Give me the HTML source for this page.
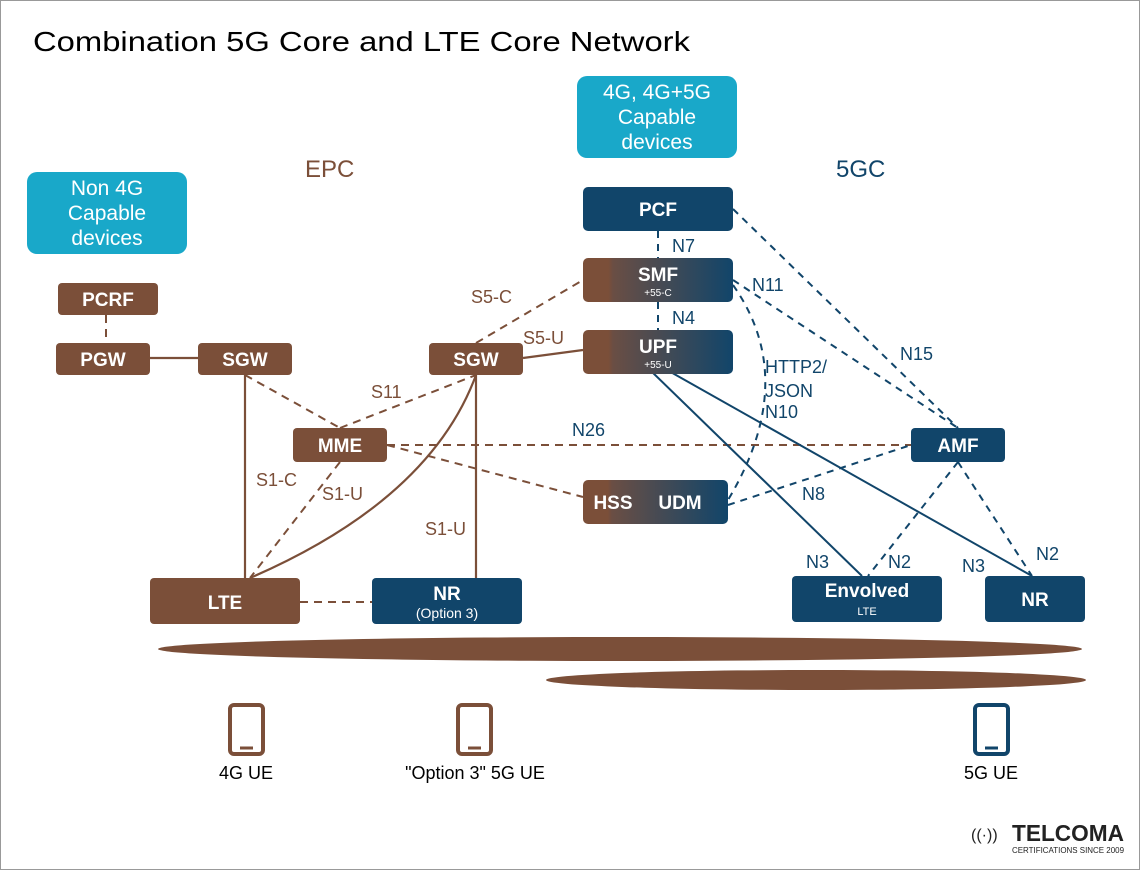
<!DOCTYPE html>
<html><head><meta charset="utf-8"><style>
body{margin:0;background:#fff}
svg{display:block}
text{font-family:"Liberation Sans",sans-serif}
</style></head><body>
<svg width="1140" height="870" viewBox="0 0 1140 870">
<defs>
<linearGradient id="g" x1="0" x2="1"><stop offset="0" stop-color="#7b4f39"/><stop offset="0.17" stop-color="#7b4f39"/><stop offset="0.2" stop-color="#6a4e44"/><stop offset="1" stop-color="#11456a"/></linearGradient>
</defs>
<rect x="0.5" y="0.5" width="1139" height="869" fill="#fff" stroke="#999"/>
<text x="33" y="51" font-size="28" fill="#000" textLength="657" lengthAdjust="spacingAndGlyphs">Combination 5G Core and LTE Core Network</text>
<text x="305" y="177" font-size="24" fill="#7b4f39">EPC</text>
<text x="836" y="177" font-size="24" fill="#11456a">5GC</text>
<g fill="#19a8c9"><rect x="27" y="172" width="160" height="82" rx="10"/><rect x="577" y="76" width="160" height="82" rx="10"/></g>
<g fill="#fff" font-size="21" text-anchor="middle">
<text x="107" y="195">Non 4G</text><text x="107" y="220">Capable</text><text x="107" y="245">devices</text>
<text x="657" y="99">4G, 4G+5G</text><text x="657" y="124">Capable</text><text x="657" y="149">devices</text></g>
<g stroke="#7b4f39" stroke-width="2.2" fill="none">
<line x1="150" y1="358" x2="198" y2="358"/>
<line x1="245" y1="375" x2="245" y2="578"/>
<line x1="523" y1="358" x2="583" y2="350"/>
<line x1="476" y1="375" x2="476" y2="578"/>
<path d="M250 578 Q430 500 476 375"/>
</g>
<g stroke="#7b4f39" stroke-width="2" fill="none" stroke-dasharray="8,6">
<line x1="106" y1="315" x2="106" y2="343"/>
<line x1="245" y1="375" x2="340" y2="428"/>
<line x1="340" y1="428" x2="476" y2="375"/>
<line x1="340" y1="462" x2="250" y2="578"/>
<line x1="387" y1="445" x2="583" y2="497"/>
<line x1="387" y1="445" x2="911" y2="445"/>
<line x1="476" y1="343" x2="583" y2="280"/>
<line x1="300" y1="602" x2="372" y2="602"/>
</g>
<g stroke="#11456a" stroke-width="2" fill="none" stroke-dasharray="7,6">
<line x1="658" y1="231" x2="658" y2="258"/>
<line x1="658" y1="302" x2="658" y2="330"/>
<line x1="733" y1="209" x2="958" y2="428"/>
<line x1="733" y1="280" x2="958" y2="428"/>
<path d="M733 285 Q800 380 728 500"/>
<line x1="728" y1="505" x2="911" y2="445"/>
<line x1="958" y1="462" x2="868" y2="576"/>
<line x1="958" y1="462" x2="1032" y2="576"/>
</g>
<g stroke="#11456a" stroke-width="2" fill="none">
<line x1="650" y1="370" x2="862" y2="576"/>
<line x1="660" y1="366" x2="1032" y2="576"/>
</g>
<g font-size="18" fill="#7b4f39">
<text x="471" y="303">S5-C</text><text x="523" y="344">S5-U</text>
<text x="371" y="398">S11</text><text x="256" y="486">S1-C</text><text x="322" y="500">S1-U</text><text x="425" y="535">S1-U</text>
</g>
<g font-size="18" fill="#11456a">
<text x="672" y="252">N7</text><text x="672" y="324">N4</text><text x="752" y="291">N11</text>
<text x="900" y="360">N15</text><text x="765" y="373">HTTP2/</text><text x="765" y="397">JSON</text><text x="765" y="418">N10</text>
<text x="572" y="436">N26</text><text x="802" y="500">N8</text>
<text x="806" y="568">N3</text><text x="888" y="568">N2</text><text x="962" y="572">N3</text><text x="1036" y="560">N2</text>
</g>
<g fill="#7b4f39">
<rect x="58" y="283" width="100" height="32" rx="4"/><rect x="56" y="343" width="94" height="32" rx="4"/>
<rect x="198" y="343" width="94" height="32" rx="4"/><rect x="429" y="343" width="94" height="32" rx="4"/>
<rect x="293" y="428" width="94" height="34" rx="4"/><rect x="150" y="578" width="150" height="46" rx="4"/>
</g>
<g fill="#11456a">
<rect x="372" y="578" width="150" height="46" rx="4"/><rect x="583" y="187" width="150" height="44" rx="5"/>
<rect x="911" y="428" width="94" height="34" rx="4"/><rect x="792" y="576" width="150" height="46" rx="4"/>
<rect x="985" y="576" width="100" height="46" rx="4"/>
</g>
<rect x="583" y="258" width="150" height="44" rx="5" fill="url(#g)"/>
<rect x="583" y="330" width="150" height="44" rx="5" fill="url(#g)"/>
<rect x="583" y="480" width="145" height="44" rx="5" fill="url(#g)"/>
<g fill="#fff" font-size="19" text-anchor="middle" font-weight="bold">
<text x="108" y="306">PCRF</text><text x="103" y="366">PGW</text><text x="245" y="366">SGW</text><text x="476" y="366">SGW</text>
<text x="340" y="452">MME</text><text x="225" y="609">LTE</text><text x="447" y="600">NR</text>
<text x="658" y="216">PCF</text><text x="658" y="281">SMF</text><text x="658" y="353">UPF</text>
<text x="613" y="509">HSS</text><text x="680" y="509">UDM</text><text x="958" y="452">AMF</text>
<text x="867" y="597">Envolved</text><text x="1035" y="606">NR</text>
</g>
<g fill="#fff" text-anchor="middle">
<text x="447" y="618" font-size="14">(Option 3)</text><text x="867" y="615" font-size="11">LTE</text>
<text x="658" y="296" font-size="10">+55-C</text><text x="658" y="368" font-size="10">+55-U</text>
</g>
<ellipse cx="620" cy="649" rx="462" ry="12" fill="#7b4f39"/>
<ellipse cx="816" cy="680" rx="270" ry="10" fill="#7b4f39"/>
<g fill="none" stroke-width="4">
<rect x="230" y="705" width="33" height="49" rx="4" stroke="#7b4f39"/>
<rect x="458" y="705" width="33" height="49" rx="4" stroke="#7b4f39"/>
<rect x="975" y="705" width="33" height="49" rx="4" stroke="#11456a"/>
</g>
<g stroke-width="3"><line x1="240" y1="748" x2="253" y2="748" stroke="#7b4f39"/><line x1="468" y1="748" x2="481" y2="748" stroke="#7b4f39"/><line x1="985" y1="748" x2="998" y2="748" stroke="#11456a"/></g>
<g font-size="18" fill="#000" text-anchor="middle">
<text x="246" y="779">4G UE</text><text x="475" y="779">"Option 3" 5G UE</text><text x="991" y="779">5G UE</text>
</g>
<text x="971" y="840" font-size="16" fill="#222">((·))</text>
<text x="1012" y="841" font-size="23" font-weight="bold" fill="#222" textLength="112" lengthAdjust="spacingAndGlyphs">TELCOMA</text>
<text x="1012" y="853" font-size="8" fill="#222" textLength="112" lengthAdjust="spacingAndGlyphs">CERTIFICATIONS SINCE 2009</text>
</svg>
</body></html>
